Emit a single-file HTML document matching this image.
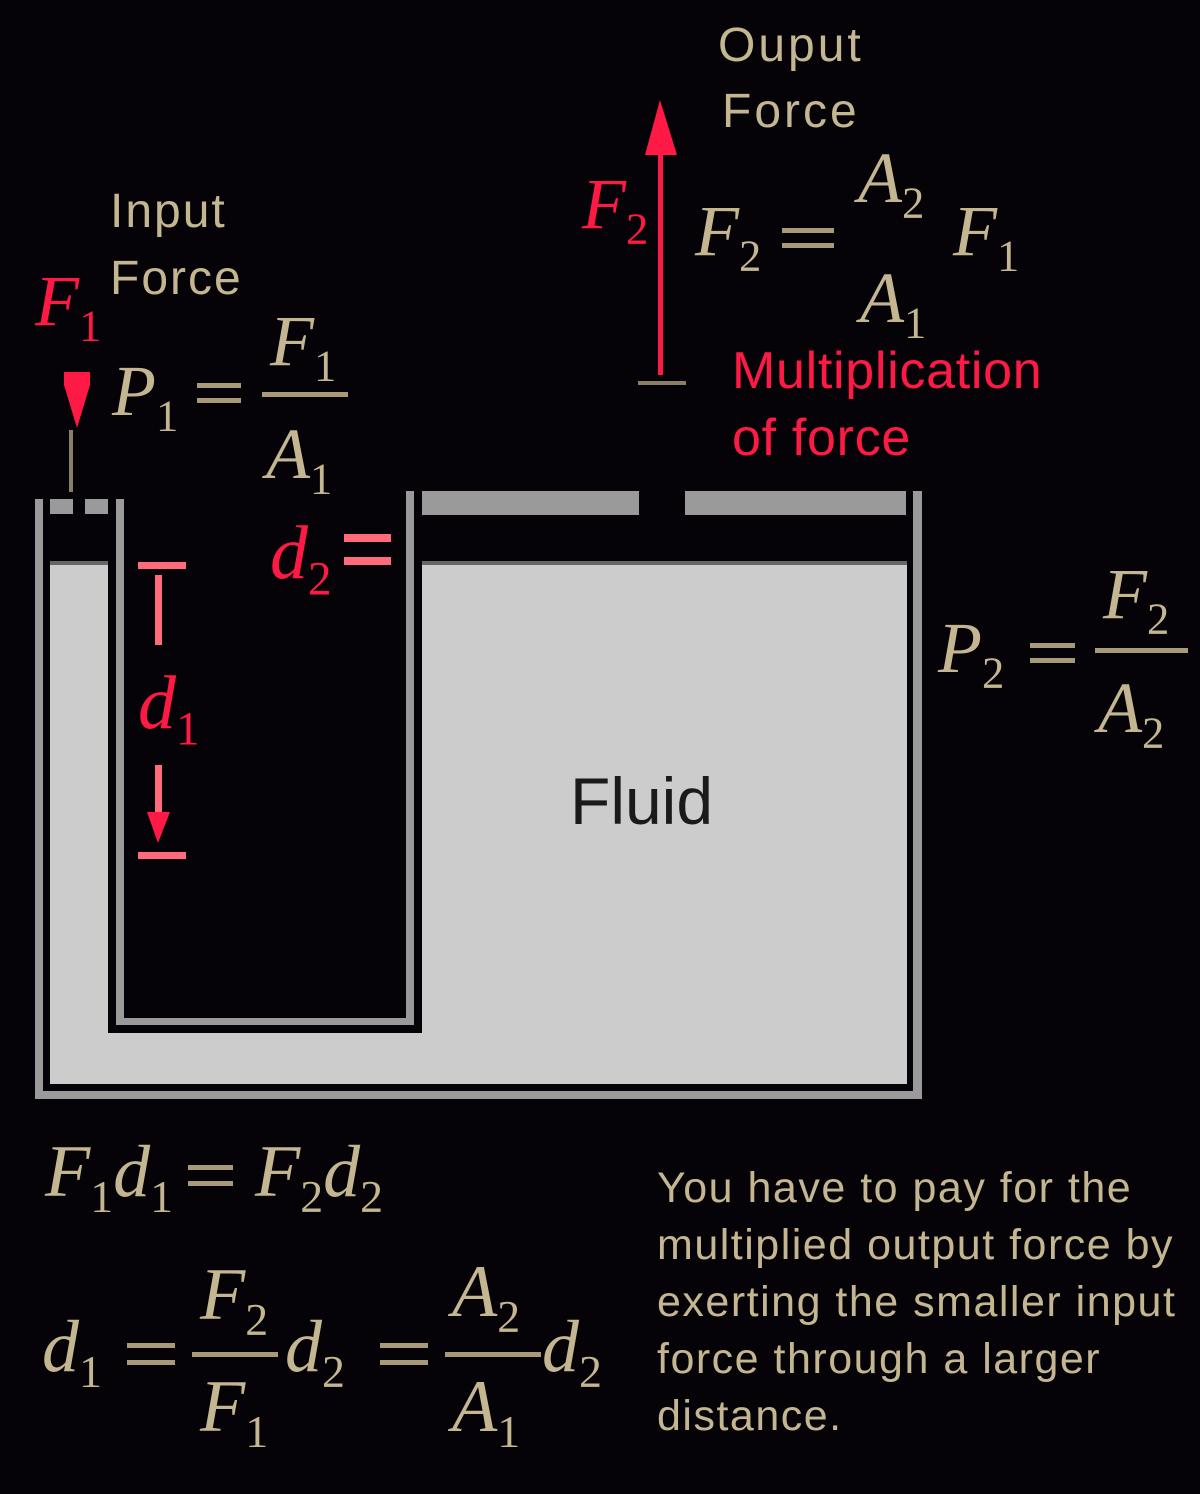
<!DOCTYPE html>
<html><head><meta charset="utf-8"><style>
body{margin:0;background:#050308;}
#c{position:relative;width:1200px;height:1494px;overflow:hidden;background:#050308;font-family:"Liberation Sans",sans-serif;}
.a{position:absolute;white-space:nowrap;line-height:1;}
.t{color:#c4b690;}
.r{color:#ff1a45;}
.m{font-family:"Liberation Serif",serif;font-style:italic;}
.m sub{font-style:normal;font-size:0.62em;vertical-align:-0.35em;}
.b{position:absolute;}
</style></head><body><div id="c">
<svg class="b" style="left:0;top:0" width="1200" height="1494">
<rect x="50" y="561" width="857" height="523" fill="#cdcccd"/>
<line x1="50" y1="563" x2="108" y2="563" stroke="#666" stroke-width="4"/>
<line x1="422" y1="563" x2="907" y2="563" stroke="#666" stroke-width="4"/>
<rect x="35" y="499" width="8" height="600" fill="#9a9a9a"/>
<rect x="35" y="1091" width="887" height="8" fill="#9a9a9a"/>
<rect x="913" y="491" width="9" height="608" fill="#9a9a9a"/>
<rect x="108" y="491" width="314" height="542" fill="#050308"/>
<rect x="116" y="499" width="8" height="526" fill="#9a9a9a"/>
<rect x="406" y="491" width="8" height="534" fill="#9a9a9a"/>
<rect x="116" y="1018" width="298" height="7" fill="#9a9a9a"/>
<rect x="50" y="499" width="23" height="15" fill="#9a9a9a"/>
<rect x="85" y="499" width="23" height="15" fill="#9a9a9a"/>
<rect x="422" y="491" width="217" height="24" fill="#9a9a9a"/>
<rect x="685" y="491" width="221" height="24" fill="#9a9a9a"/>
<line x1="71" y1="430" x2="71" y2="492" stroke="#8a7f66" stroke-width="4"/>
<polygon points="64,372 90,372 90,385 77,428 64,385" fill="#ff1a45"/>
<rect x="71" y="372" width="12" height="20" fill="#ff1a45"/>
<rect x="638" y="381" width="48" height="4" fill="#8a7f66"/>
<rect x="658" y="150" width="5" height="225" fill="#ff1a45"/>
<polygon points="660,100 645,155 677,155" fill="#ff1a45"/>
<rect x="138" y="562" width="48" height="7" fill="#ff6b7a"/>
<rect x="155" y="575" width="7" height="70" fill="#ff6b7a"/>
<rect x="155" y="765" width="7" height="50" fill="#ff6b7a"/>
<polygon points="147,812 170,812 158,843" fill="#ff1a45"/>
<rect x="138" y="852" width="48" height="7" fill="#ff6b7a"/>
<rect x="344" y="534" width="47" height="8" fill="#ff6b7a"/>
<rect x="344" y="557" width="47" height="8" fill="#ff6b7a"/>
<g fill="#a89a78">
<rect x="197" y="383" width="44" height="5"/><rect x="197" y="398" width="44" height="5"/>
<rect x="262" y="392" width="86" height="5"/>
<rect x="782" y="228" width="52" height="5"/><rect x="782" y="243" width="52" height="5"/>
<rect x="1030" y="643" width="45" height="5"/><rect x="1030" y="658" width="45" height="5"/>
<rect x="1095" y="648" width="93" height="5"/>
<rect x="188" y="1165" width="45" height="5"/><rect x="188" y="1181" width="45" height="5"/>
<rect x="127" y="1343" width="48" height="5"/><rect x="127" y="1360" width="48" height="5"/>
<rect x="192" y="1352" width="86" height="5"/>
<rect x="380" y="1343" width="48" height="5"/><rect x="380" y="1360" width="48" height="5"/>
<rect x="445" y="1352" width="96" height="5"/>
</g>
</svg>

<div class="a t" style="left:718px;top:22px;font-size:48px;letter-spacing:3px">Ouput</div>
<div class="a t" style="left:722px;top:88px;font-size:48px;letter-spacing:3px">Force</div>
<div class="a t" style="left:110px;top:188px;font-size:48px;letter-spacing:2px">Input</div>
<div class="a t" style="left:110px;top:255px;font-size:48px;letter-spacing:2px">Force</div>

<div class="a r m" style="left:35px;top:265px;font-size:72px">F<sub>1</sub></div>
<div class="a t m" style="left:112px;top:355px;font-size:72px">P<sub>1</sub></div>
<div class="a t m" style="left:270px;top:305px;font-size:72px">F<sub>1</sub></div>
<div class="a t m" style="left:266px;top:418px;font-size:72px">A<sub>1</sub></div>
<div class="a r m" style="left:270px;top:515px;font-size:76px">d<sub>2</sub></div>
<div class="a r m" style="left:138px;top:665px;font-size:76px">d<sub>1</sub></div>

<div class="a r m" style="left:582px;top:168px;font-size:72px">F<sub>2</sub></div>
<div class="a t m" style="left:695px;top:195px;font-size:72px">F<sub>2</sub></div>
<div class="a t m" style="left:858px;top:142px;font-size:72px">A<sub>2</sub></div>
<div class="a t m" style="left:860px;top:262px;font-size:72px">A<sub>1</sub></div>
<div class="a t m" style="left:953px;top:195px;font-size:72px">F<sub>1</sub></div>
<div class="a r" style="left:732px;top:345px;font-size:52px;letter-spacing:0.7px">Multiplication</div>
<div class="a r" style="left:732px;top:412px;font-size:52px;letter-spacing:0.7px">of force</div>

<div class="a t m" style="left:938px;top:612px;font-size:72px">P<sub>2</sub></div>
<div class="a t m" style="left:1103px;top:558px;font-size:72px">F<sub>2</sub></div>
<div class="a t m" style="left:1098px;top:672px;font-size:72px">A<sub>2</sub></div>

<div class="a" style="left:570px;top:768px;font-size:66px;color:#1a1a1a">Fluid</div>

<div class="a t m" style="left:45px;top:1135px;font-size:74px">F<sub>1</sub>d<sub>1</sub></div>
<div class="a t m" style="left:255px;top:1135px;font-size:74px">F<sub>2</sub>d<sub>2</sub></div>
<div class="a t m" style="left:42px;top:1310px;font-size:74px">d<sub>1</sub></div>
<div class="a t m" style="left:200px;top:1258px;font-size:74px">F<sub>2</sub></div>
<div class="a t m" style="left:200px;top:1370px;font-size:74px">F<sub>1</sub></div>
<div class="a t m" style="left:285px;top:1310px;font-size:74px">d<sub>2</sub></div>
<div class="a t m" style="left:452px;top:1255px;font-size:74px">A<sub>2</sub></div>
<div class="a t m" style="left:452px;top:1370px;font-size:74px">A<sub>1</sub></div>
<div class="a t m" style="left:542px;top:1310px;font-size:74px">d<sub>2</sub></div>

<div class="a t" style="left:657px;top:1160px;font-size:43px;line-height:57px;letter-spacing:1.5px">You have to pay for the<br>multiplied output force by<br>exerting the smaller input<br>force through a larger<br>distance.</div>
</div></body></html>
